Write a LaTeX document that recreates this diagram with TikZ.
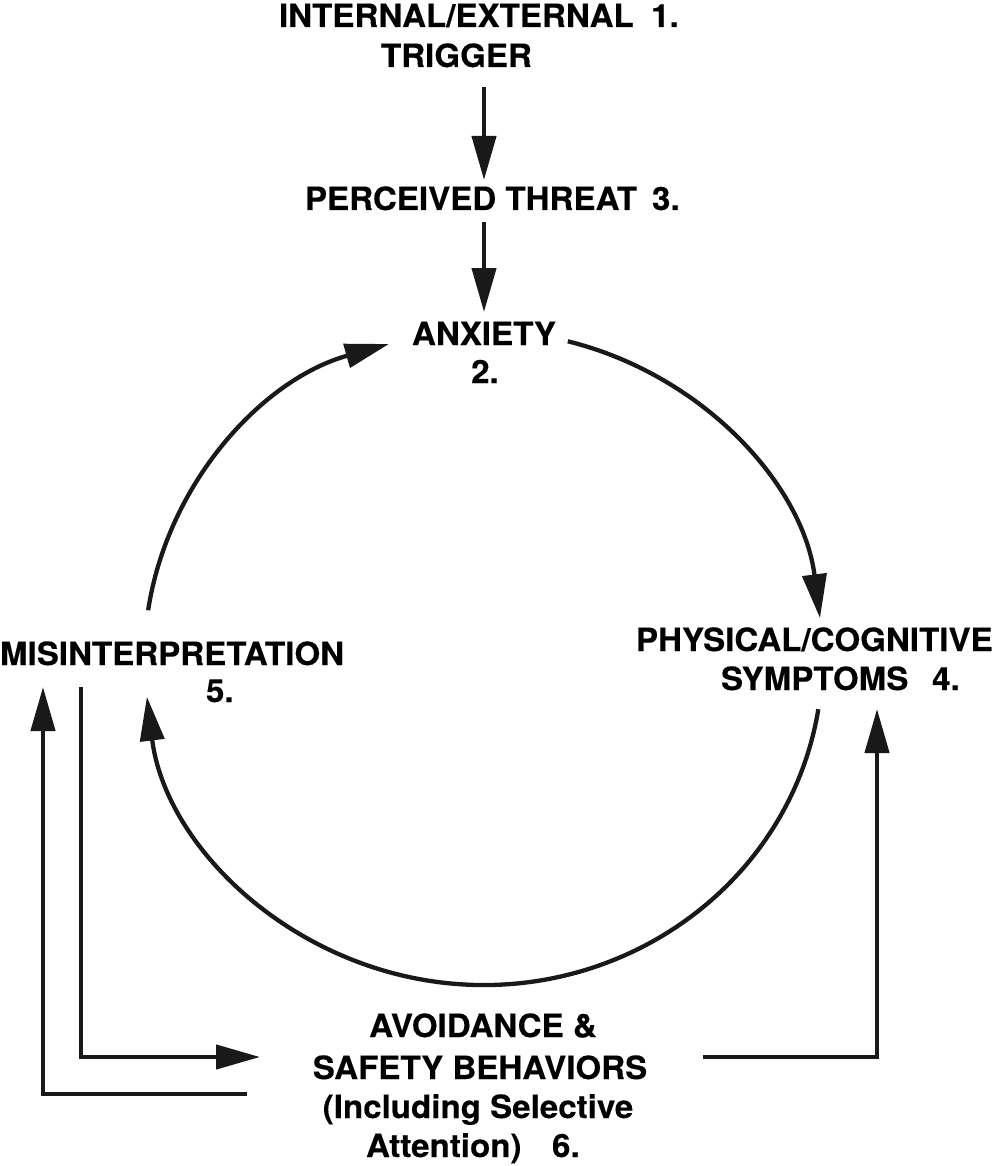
\documentclass[tikz,border=0pt]{standalone}
\usepackage{fontspec}
\setmainfont{TeX Gyre Heros}[FakeStretch=1.035,FakeBold=0.3]
\usetikzlibrary{arrows.meta}
\begin{document}
\begin{tikzpicture}[x=1pt,y=-1pt,
  lbl/.style={anchor=base west,inner sep=0pt,outer sep=0pt,font=\fontsize{32}{38}\selectfont\bfseries},
  lblc/.style={anchor=base,inner sep=0pt,outer sep=0pt,font=\fontsize{32}{38}\selectfont\bfseries},
  conn/.style={line width=4.3pt,line join=miter,black!90},
  arr/.style={conn,-{Triangle[length=44pt,width=24pt]}}]
\useasboundingbox (0,0) rectangle (995,1166);
% labels
\node[lbl] (trig1) at (279,27) {INTERNAL/EXTERNAL};
\node[lbl] (trig1n) at (651,27) {1.};
\node[lbl] (trig2) at (381,67) {TRIGGER};
\node[lbl] (threat) at (305,210) {PERCEIVED THREAT};
\node[lbl] (threatn) at (652,210) {3.};
\node[lblc] (anx) at (484,345) {ANXIETY};
\node[lblc] (anxn) at (485,383) {2.};
\node[lbl] (mis) at (0,665) {MISINTERPRETATION};
\node[lbl] (misn) at (206,702) {5.};
\node[lbl] (phys) at (636,651) {PHYSICAL/COGNITIVE};
\node[lbl] (symp) at (721,690) {SYMPTOMS};
\node[lbl] (sympn) at (932,690) {4.};
\node[lblc] (av1) at (483,1037) {AVOIDANCE \&};
\node[lblc] (av2) at (480,1079) {SAFETY BEHAVIORS};
\node[lblc] (av3) at (478,1118) {(Including Selective};
\node[lbl] (av4) at (366,1157) {Attention)};
\node[lbl] (av4n) at (552,1157) {6.};
% connector coordinates
\coordinate (a1s) at (484,87);
\coordinate (a1e) at (484,180);
\coordinate (a2s) at (484,222);
\coordinate (a2e) at (484,312);
\coordinate (C) at (483.5,658);
\coordinate (inA) at (81,687);
\coordinate (inB) at (81,1057);
\coordinate (inC) at (260,1057);
\coordinate (outA) at (247,1094);
\coordinate (outB) at (43,1094);
\coordinate (outC) at (43,687);
\coordinate (rA) at (703,1057);
\coordinate (rB) at (877,1057);
\coordinate (rC) at (877,709);
% straight arrows
\draw[arr] (a1s) -- (a1e);
\draw[arr] (a2s) -- (a2e);
% cycle arcs
\draw[arr] ([shift={(188.4:339 and 327)}]C) arc[start angle=188.4,end angle=253.8,x radius=339,y radius=327];
\draw[arr] ([shift={(284.4:339 and 327)}]C) arc[start angle=284.4,end angle=353,x radius=339,y radius=327];
\draw[arr] ([shift={(9:339 and 327)}]C) arc[start angle=9,end angle=173.2,x radius=339,y radius=327];
% feedback loops
\draw[arr] (inA) -- (inB) -- (inC);
\draw[arr] (outA) -- (outB) -- (outC);
\draw[arr] (rA) -- (rB) -- (rC);
\end{tikzpicture}
\end{document}
